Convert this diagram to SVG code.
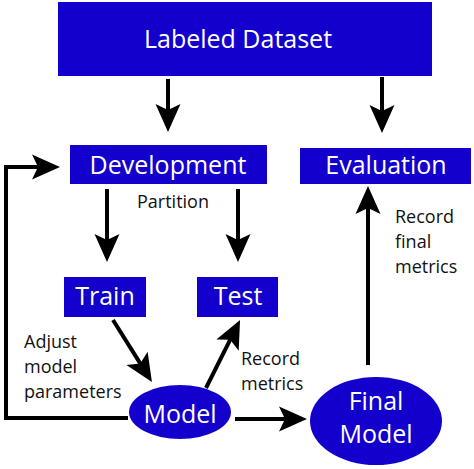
<svg xmlns="http://www.w3.org/2000/svg" width="474" height="469" viewBox="0 0 474 469">
<style>
.box{fill:#1400cc;}
.lbl{font-family:"Open Sans","Noto Sans",sans-serif;fill:#ffffff;text-anchor:middle;font-size:25px;}
.note{font-family:"Open Sans","Noto Sans",sans-serif;fill:#111111;font-size:18px;}
.edge{stroke:#000000;stroke-width:4;fill:none;}
</style>
<defs>
<marker id="ah" markerUnits="userSpaceOnUse" viewBox="-10 -13 32 26" refX="0" refY="0" markerWidth="32" markerHeight="26" orient="auto" overflow="visible">
<path d="M20,0 L-8,-12.5 L-2,0 L-8,12.5 Z" fill="#000000"/>
</marker>
</defs>
<rect width="474" height="469" fill="#ffffff"/>
<g id="connectors">
<line class="edge" x1="168" y1="79" x2="168" y2="112" marker-end="url(#ah)"/>
<line class="edge" x1="382" y1="77" x2="382" y2="113" marker-end="url(#ah)"/>
<path class="edge" d="M128,418 H6 V167 H40" marker-end="url(#ah)"/>
<line class="edge" x1="107" y1="189" x2="107" y2="242" marker-end="url(#ah)"/>
<line class="edge" x1="238" y1="189" x2="238" y2="242" marker-end="url(#ah)"/>
<line class="edge" x1="368" y1="365" x2="368" y2="206" marker-end="url(#ah)"/>
<line class="edge" x1="113" y1="320" x2="141.3" y2="365.1" marker-end="url(#ah)"/>
<line class="edge" x1="206" y1="388" x2="231.1" y2="337.9" marker-end="url(#ah)"/>
<line class="edge" x1="235" y1="419" x2="287" y2="419" marker-end="url(#ah)"/>
</g>
<g id="labeled-dataset">
<rect class="box" x="58" y="2" width="374" height="74"/>
<text class="lbl" x="238" y="48">Labeled Dataset</text>
</g>
<g id="development">
<rect class="box" x="70" y="145" width="197" height="39"/>
<text class="lbl" x="168" y="174">Development</text>
</g>
<g id="evaluation">
<rect class="box" x="300" y="148" width="171" height="36"/>
<text class="lbl" x="386" y="174">Evaluation</text>
</g>
<g id="train">
<rect class="box" x="64" y="277" width="82" height="40"/>
<text class="lbl" x="105" y="305">Train</text>
</g>
<g id="test">
<rect class="box" x="197" y="277" width="81" height="40"/>
<text class="lbl" x="238" y="305">Test</text>
</g>
<g id="model">
<ellipse class="box" cx="180" cy="412" rx="51" ry="27"/>
<text class="lbl" x="180" y="423">Model</text>
</g>
<g id="final-model">
<ellipse class="box" cx="376" cy="421" rx="66" ry="44"/>
<text class="lbl" x="376" y="410">Final</text>
<text class="lbl" x="376" y="443">Model</text>
</g>
<g id="notes">
<text class="note" x="137" y="208">Partition</text>
<text class="note" x="395" y="223">Record</text>
<text class="note" x="395" y="248">final</text>
<text class="note" x="395" y="273">metrics</text>
<text class="note" x="24" y="348">Adjust</text>
<text class="note" x="24" y="373">model</text>
<text class="note" x="24" y="398">parameters</text>
<text class="note" x="241" y="365">Record</text>
<text class="note" x="241" y="390">metrics</text>
</g>
</svg>
